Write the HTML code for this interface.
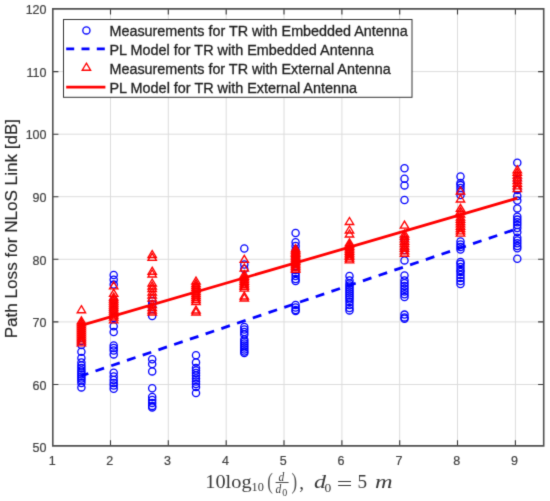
<!DOCTYPE html>
<html><head><meta charset="utf-8"><style>html,body{margin:0;padding:0;background:#fff;overflow:hidden}svg{display:block}</style></head><body>
<svg width="550" height="501" viewBox="0 0 550 501">
<defs><filter id="bl" x="0" y="0" width="1" height="1" color-interpolation-filters="sRGB"><feConvolveMatrix order="3" kernelMatrix="1 6 1 6 36 6 1 6 1" divisor="64" edgeMode="duplicate"/></filter></defs>
<g filter="url(#bl)">
<rect width="550" height="501" fill="#fff"/>
<path d="M110.5 8.9V445.9M168.3 8.9V445.9M226.2 8.9V445.9M284.0 8.9V445.9M341.9 8.9V445.9M399.7 8.9V445.9M457.5 8.9V445.9M515.4 8.9V445.9M52.8 384.5H543.7M52.8 321.9H543.7M52.8 259.3H543.7M52.8 196.7H543.7M52.8 134.2H543.7M52.8 71.6H543.7" stroke="#dcdcdc" stroke-width="1" fill="none"/>
<g fill="none" stroke="#0000ff" stroke-width="1.3"><circle cx="81.4" cy="341.0" r="3.6"/><circle cx="81.4" cy="345.0" r="3.6"/><circle cx="81.4" cy="351.7" r="3.6"/><circle cx="81.4" cy="358.0" r="3.6"/><circle cx="81.4" cy="362.5" r="3.6"/><circle cx="81.4" cy="365.5" r="3.6"/><circle cx="81.4" cy="368.0" r="3.6"/><circle cx="81.4" cy="370.5" r="3.6"/><circle cx="81.4" cy="372.5" r="3.6"/><circle cx="81.4" cy="374.5" r="3.6"/><circle cx="81.4" cy="376.5" r="3.6"/><circle cx="81.4" cy="378.5" r="3.6"/><circle cx="81.4" cy="380.5" r="3.6"/><circle cx="81.4" cy="383.0" r="3.6"/><circle cx="81.4" cy="387.4" r="3.6"/><circle cx="113.7" cy="275.0" r="3.6"/><circle cx="113.7" cy="279.8" r="3.6"/><circle cx="113.7" cy="284.6" r="3.6"/><circle cx="113.7" cy="300.0" r="3.6"/><circle cx="113.7" cy="310.0" r="3.6"/><circle cx="113.7" cy="318.0" r="3.6"/><circle cx="113.7" cy="326.2" r="3.6"/><circle cx="113.7" cy="332.0" r="3.6"/><circle cx="113.7" cy="345.5" r="3.6"/><circle cx="113.7" cy="348.0" r="3.6"/><circle cx="113.7" cy="350.5" r="3.6"/><circle cx="113.7" cy="354.4" r="3.6"/><circle cx="113.7" cy="372.8" r="3.6"/><circle cx="113.7" cy="376.5" r="3.6"/><circle cx="113.7" cy="380.0" r="3.6"/><circle cx="113.7" cy="383.0" r="3.6"/><circle cx="113.7" cy="385.5" r="3.6"/><circle cx="113.7" cy="388.8" r="3.6"/><circle cx="152.2" cy="301.0" r="3.6"/><circle cx="152.2" cy="304.0" r="3.6"/><circle cx="152.2" cy="307.0" r="3.6"/><circle cx="152.2" cy="316.0" r="3.6"/><circle cx="152.2" cy="359.2" r="3.6"/><circle cx="152.2" cy="364.0" r="3.6"/><circle cx="152.2" cy="371.4" r="3.6"/><circle cx="152.2" cy="388.2" r="3.6"/><circle cx="152.2" cy="396.9" r="3.6"/><circle cx="152.2" cy="399.9" r="3.6"/><circle cx="152.2" cy="402.9" r="3.6"/><circle cx="152.2" cy="405.9" r="3.6"/><circle cx="152.2" cy="407.4" r="3.6"/><circle cx="196.0" cy="355.2" r="3.6"/><circle cx="196.0" cy="362.4" r="3.6"/><circle cx="196.0" cy="368.0" r="3.6"/><circle cx="196.0" cy="370.5" r="3.6"/><circle cx="196.0" cy="373.0" r="3.6"/><circle cx="196.0" cy="375.5" r="3.6"/><circle cx="196.0" cy="378.5" r="3.6"/><circle cx="196.0" cy="381.5" r="3.6"/><circle cx="196.0" cy="384.0" r="3.6"/><circle cx="196.0" cy="387.0" r="3.6"/><circle cx="196.0" cy="393.0" r="3.6"/><circle cx="244.3" cy="248.5" r="3.6"/><circle cx="244.3" cy="264.5" r="3.6"/><circle cx="244.3" cy="269.0" r="3.6"/><circle cx="244.3" cy="327.0" r="3.6"/><circle cx="244.3" cy="329.5" r="3.6"/><circle cx="244.3" cy="332.0" r="3.6"/><circle cx="244.3" cy="334.5" r="3.6"/><circle cx="244.3" cy="339.5" r="3.6"/><circle cx="244.3" cy="341.5" r="3.6"/><circle cx="244.3" cy="343.5" r="3.6"/><circle cx="244.3" cy="345.5" r="3.6"/><circle cx="244.3" cy="347.5" r="3.6"/><circle cx="244.3" cy="349.5" r="3.6"/><circle cx="244.3" cy="351.5" r="3.6"/><circle cx="244.3" cy="353.0" r="3.6"/><circle cx="295.6" cy="233.0" r="3.6"/><circle cx="295.6" cy="242.2" r="3.6"/><circle cx="295.6" cy="246.0" r="3.6"/><circle cx="295.6" cy="250.0" r="3.6"/><circle cx="295.6" cy="254.0" r="3.6"/><circle cx="295.6" cy="258.0" r="3.6"/><circle cx="295.6" cy="262.0" r="3.6"/><circle cx="295.6" cy="266.0" r="3.6"/><circle cx="295.6" cy="270.0" r="3.6"/><circle cx="295.6" cy="273.0" r="3.6"/><circle cx="295.6" cy="276.0" r="3.6"/><circle cx="295.6" cy="279.0" r="3.6"/><circle cx="295.6" cy="281.0" r="3.6"/><circle cx="295.6" cy="305.0" r="3.6"/><circle cx="295.6" cy="307.5" r="3.6"/><circle cx="295.6" cy="310.0" r="3.6"/><circle cx="295.6" cy="311.0" r="3.6"/><circle cx="349.5" cy="276.0" r="3.6"/><circle cx="349.5" cy="280.5" r="3.6"/><circle cx="349.5" cy="283.5" r="3.6"/><circle cx="349.5" cy="285.5" r="3.6"/><circle cx="349.5" cy="287.5" r="3.6"/><circle cx="349.5" cy="289.5" r="3.6"/><circle cx="349.5" cy="291.5" r="3.6"/><circle cx="349.5" cy="293.5" r="3.6"/><circle cx="349.5" cy="295.5" r="3.6"/><circle cx="349.5" cy="297.5" r="3.6"/><circle cx="349.5" cy="299.5" r="3.6"/><circle cx="349.5" cy="302.0" r="3.6"/><circle cx="349.5" cy="305.0" r="3.6"/><circle cx="349.5" cy="308.0" r="3.6"/><circle cx="349.5" cy="310.4" r="3.6"/><circle cx="404.5" cy="168.3" r="3.6"/><circle cx="404.5" cy="178.7" r="3.6"/><circle cx="404.5" cy="185.4" r="3.6"/><circle cx="404.5" cy="200.0" r="3.6"/><circle cx="404.5" cy="240.0" r="3.6"/><circle cx="404.5" cy="250.0" r="3.6"/><circle cx="404.5" cy="260.4" r="3.6"/><circle cx="404.5" cy="275.5" r="3.6"/><circle cx="404.5" cy="280.4" r="3.6"/><circle cx="404.5" cy="283.2" r="3.6"/><circle cx="404.5" cy="286.0" r="3.6"/><circle cx="404.5" cy="288.7" r="3.6"/><circle cx="404.5" cy="291.5" r="3.6"/><circle cx="404.5" cy="294.3" r="3.6"/><circle cx="404.5" cy="297.1" r="3.6"/><circle cx="404.5" cy="314.6" r="3.6"/><circle cx="404.5" cy="317.4" r="3.6"/><circle cx="404.5" cy="318.8" r="3.6"/><circle cx="460.5" cy="176.5" r="3.6"/><circle cx="460.5" cy="183.0" r="3.6"/><circle cx="460.5" cy="185.1" r="3.6"/><circle cx="460.5" cy="188.0" r="3.6"/><circle cx="460.5" cy="191.4" r="3.6"/><circle cx="460.5" cy="195.0" r="3.6"/><circle cx="460.5" cy="241.5" r="3.6"/><circle cx="460.5" cy="244.5" r="3.6"/><circle cx="460.5" cy="247.0" r="3.6"/><circle cx="460.5" cy="249.5" r="3.6"/><circle cx="460.5" cy="262.0" r="3.6"/><circle cx="460.5" cy="264.0" r="3.6"/><circle cx="460.5" cy="267.0" r="3.6"/><circle cx="460.5" cy="270.0" r="3.6"/><circle cx="460.5" cy="272.0" r="3.6"/><circle cx="460.5" cy="275.0" r="3.6"/><circle cx="460.5" cy="278.0" r="3.6"/><circle cx="460.5" cy="281.0" r="3.6"/><circle cx="460.5" cy="284.0" r="3.6"/><circle cx="517.3" cy="162.8" r="3.6"/><circle cx="517.3" cy="180.0" r="3.6"/><circle cx="517.3" cy="190.0" r="3.6"/><circle cx="517.3" cy="196.0" r="3.6"/><circle cx="517.3" cy="200.6" r="3.6"/><circle cx="517.3" cy="208.4" r="3.6"/><circle cx="517.3" cy="216.8" r="3.6"/><circle cx="517.3" cy="219.6" r="3.6"/><circle cx="517.3" cy="222.3" r="3.6"/><circle cx="517.3" cy="225.1" r="3.6"/><circle cx="517.3" cy="228.0" r="3.6"/><circle cx="517.3" cy="232.0" r="3.6"/><circle cx="517.3" cy="237.7" r="3.6"/><circle cx="517.3" cy="240.5" r="3.6"/><circle cx="517.3" cy="243.3" r="3.6"/><circle cx="517.3" cy="246.0" r="3.6"/><circle cx="517.3" cy="248.2" r="3.6"/><circle cx="517.3" cy="258.7" r="3.6"/></g>
<path d="M81.4 375.8L517.3 228.7" stroke="#0000ff" stroke-width="2.8" stroke-dasharray="9 7.6" stroke-dashoffset="1.7" fill="none"/>
<g fill="none" stroke="#ff0000" stroke-width="1.35" stroke-linejoin="miter"><path d="M81.4 305.7L85.6 312.7L77.2 312.7Z"/><path d="M81.4 316.9L85.6 323.9L77.2 323.9Z"/><path d="M81.4 318.9L85.6 325.9L77.2 325.9Z"/><path d="M81.4 320.9L85.6 327.9L77.2 327.9Z"/><path d="M81.4 322.9L85.6 329.9L77.2 329.9Z"/><path d="M81.4 324.9L85.6 331.9L77.2 331.9Z"/><path d="M81.4 326.9L85.6 333.9L77.2 333.9Z"/><path d="M81.4 328.9L85.6 335.9L77.2 335.9Z"/><path d="M81.4 330.9L85.6 337.9L77.2 337.9Z"/><path d="M81.4 332.9L85.6 339.9L77.2 339.9Z"/><path d="M81.4 334.9L85.6 341.9L77.2 341.9Z"/><path d="M81.4 336.9L85.6 343.9L77.2 343.9Z"/><path d="M81.4 338.9L85.6 345.9L77.2 345.9Z"/><path d="M113.7 281.8L117.9 288.8L109.5 288.8Z"/><path d="M113.7 289.3L117.9 296.3L109.5 296.3Z"/><path d="M113.7 293.0L117.9 300.0L109.5 300.0Z"/><path d="M113.7 295.0L117.9 302.0L109.5 302.0Z"/><path d="M113.7 297.0L117.9 304.0L109.5 304.0Z"/><path d="M113.7 299.0L117.9 306.0L109.5 306.0Z"/><path d="M113.7 301.0L117.9 308.0L109.5 308.0Z"/><path d="M113.7 303.0L117.9 310.0L109.5 310.0Z"/><path d="M113.7 305.0L117.9 312.0L109.5 312.0Z"/><path d="M113.7 307.0L117.9 314.0L109.5 314.0Z"/><path d="M113.7 309.0L117.9 316.0L109.5 316.0Z"/><path d="M113.7 311.0L117.9 318.0L109.5 318.0Z"/><path d="M113.7 313.0L117.9 320.0L109.5 320.0Z"/><path d="M113.7 315.8L117.9 322.8L109.5 322.8Z"/><path d="M152.2 250.5L156.4 257.5L148.0 257.5Z"/><path d="M152.2 253.3L156.4 260.3L148.0 260.3Z"/><path d="M152.2 267.2L156.4 274.2L148.0 274.2Z"/><path d="M152.2 270.0L156.4 277.0L148.0 277.0Z"/><path d="M152.2 279.0L156.4 286.0L148.0 286.0Z"/><path d="M152.2 282.0L156.4 289.0L148.0 289.0Z"/><path d="M152.2 284.5L156.4 291.5L148.0 291.5Z"/><path d="M152.2 288.0L156.4 295.0L148.0 295.0Z"/><path d="M152.2 291.0L156.4 298.0L148.0 298.0Z"/><path d="M152.2 294.0L156.4 301.0L148.0 301.0Z"/><path d="M152.2 300.5L156.4 307.5L148.0 307.5Z"/><path d="M152.2 303.5L156.4 310.5L148.0 310.5Z"/><path d="M152.2 306.0L156.4 313.0L148.0 313.0Z"/><path d="M152.2 308.0L156.4 315.0L148.0 315.0Z"/><path d="M196.0 277.0L200.2 284.0L191.8 284.0Z"/><path d="M196.0 279.5L200.2 286.5L191.8 286.5Z"/><path d="M196.0 281.5L200.2 288.5L191.8 288.5Z"/><path d="M196.0 283.5L200.2 290.5L191.8 290.5Z"/><path d="M196.0 285.5L200.2 292.5L191.8 292.5Z"/><path d="M196.0 287.5L200.2 294.5L191.8 294.5Z"/><path d="M196.0 289.5L200.2 296.5L191.8 296.5Z"/><path d="M196.0 291.5L200.2 298.5L191.8 298.5Z"/><path d="M196.0 293.5L200.2 300.5L191.8 300.5Z"/><path d="M196.0 295.5L200.2 302.5L191.8 302.5Z"/><path d="M196.0 297.5L200.2 304.5L191.8 304.5Z"/><path d="M196.0 306.0L200.2 313.0L191.8 313.0Z"/><path d="M196.0 308.0L200.2 315.0L191.8 315.0Z"/><path d="M244.3 255.3L248.5 262.3L240.1 262.3Z"/><path d="M244.3 264.0L248.5 271.0L240.1 271.0Z"/><path d="M244.3 270.5L248.5 277.5L240.1 277.5Z"/><path d="M244.3 272.2L248.5 279.2L240.1 279.2Z"/><path d="M244.3 273.9L248.5 280.9L240.1 280.9Z"/><path d="M244.3 275.6L248.5 282.6L240.1 282.6Z"/><path d="M244.3 277.3L248.5 284.3L240.1 284.3Z"/><path d="M244.3 279.0L248.5 286.0L240.1 286.0Z"/><path d="M244.3 280.7L248.5 287.7L240.1 287.7Z"/><path d="M244.3 282.4L248.5 289.4L240.1 289.4Z"/><path d="M244.3 284.1L248.5 291.1L240.1 291.1Z"/><path d="M244.3 292.0L248.5 299.0L240.1 299.0Z"/><path d="M244.3 294.0L248.5 301.0L240.1 301.0Z"/><path d="M295.6 244.5L299.8 251.5L291.4 251.5Z"/><path d="M295.6 246.1L299.8 253.1L291.4 253.1Z"/><path d="M295.6 247.7L299.8 254.7L291.4 254.7Z"/><path d="M295.6 249.3L299.8 256.3L291.4 256.3Z"/><path d="M295.6 250.9L299.8 257.9L291.4 257.9Z"/><path d="M295.6 252.5L299.8 259.5L291.4 259.5Z"/><path d="M295.6 254.1L299.8 261.1L291.4 261.1Z"/><path d="M295.6 255.7L299.8 262.7L291.4 262.7Z"/><path d="M295.6 257.3L299.8 264.3L291.4 264.3Z"/><path d="M295.6 258.9L299.8 265.9L291.4 265.9Z"/><path d="M295.6 260.5L299.8 267.5L291.4 267.5Z"/><path d="M295.6 262.1L299.8 269.1L291.4 269.1Z"/><path d="M295.6 263.7L299.8 270.7L291.4 270.7Z"/><path d="M295.6 265.3L299.8 272.3L291.4 272.3Z"/><path d="M349.5 217.5L353.7 224.5L345.3 224.5Z"/><path d="M349.5 226.0L353.7 233.0L345.3 233.0Z"/><path d="M349.5 230.0L353.7 237.0L345.3 237.0Z"/><path d="M349.5 238.8L353.7 245.8L345.3 245.8Z"/><path d="M349.5 240.5L353.7 247.5L345.3 247.5Z"/><path d="M349.5 242.2L353.7 249.2L345.3 249.2Z"/><path d="M349.5 243.9L353.7 250.9L345.3 250.9Z"/><path d="M349.5 245.6L353.7 252.6L345.3 252.6Z"/><path d="M349.5 247.3L353.7 254.3L345.3 254.3Z"/><path d="M349.5 249.0L353.7 256.0L345.3 256.0Z"/><path d="M349.5 250.7L353.7 257.7L345.3 257.7Z"/><path d="M349.5 252.4L353.7 259.4L345.3 259.4Z"/><path d="M349.5 254.1L353.7 261.1L345.3 261.1Z"/><path d="M349.5 255.8L353.7 262.8L345.3 262.8Z"/><path d="M404.5 221.1L408.7 228.1L400.3 228.1Z"/><path d="M404.5 230.0L408.7 237.0L400.3 237.0Z"/><path d="M404.5 232.4L408.7 239.4L400.3 239.4Z"/><path d="M404.5 234.8L408.7 241.8L400.3 241.8Z"/><path d="M404.5 237.2L408.7 244.2L400.3 244.2Z"/><path d="M404.5 239.6L408.7 246.6L400.3 246.6Z"/><path d="M404.5 242.0L408.7 249.0L400.3 249.0Z"/><path d="M404.5 244.4L408.7 251.4L400.3 251.4Z"/><path d="M404.5 246.8L408.7 253.8L400.3 253.8Z"/><path d="M404.5 249.3L408.7 256.3L400.3 256.3Z"/><path d="M460.5 187.0L464.7 194.0L456.3 194.0Z"/><path d="M460.5 195.0L464.7 202.0L456.3 202.0Z"/><path d="M460.5 204.3L464.7 211.3L456.3 211.3Z"/><path d="M460.5 207.3L464.7 214.3L456.3 214.3Z"/><path d="M460.5 210.0L464.7 217.0L456.3 217.0Z"/><path d="M460.5 213.0L464.7 220.0L456.3 220.0Z"/><path d="M460.5 215.3L464.7 222.3L456.3 222.3Z"/><path d="M460.5 217.6L464.7 224.6L456.3 224.6Z"/><path d="M460.5 219.9L464.7 226.9L456.3 226.9Z"/><path d="M460.5 222.2L464.7 229.2L456.3 229.2Z"/><path d="M460.5 224.5L464.7 231.5L456.3 231.5Z"/><path d="M460.5 226.8L464.7 233.8L456.3 233.8Z"/><path d="M460.5 229.1L464.7 236.1L456.3 236.1Z"/><path d="M517.3 165.7L521.5 172.7L513.1 172.7Z"/><path d="M517.3 168.4L521.5 175.4L513.1 175.4Z"/><path d="M517.3 171.1L521.5 178.1L513.1 178.1Z"/><path d="M517.3 173.8L521.5 180.8L513.1 180.8Z"/><path d="M517.3 176.5L521.5 183.5L513.1 183.5Z"/><path d="M517.3 179.2L521.5 186.2L513.1 186.2Z"/><path d="M517.3 181.9L521.5 188.9L513.1 188.9Z"/><path d="M517.3 184.6L521.5 191.6L513.1 191.6Z"/></g>
<path d="M81.4 325.4L517.3 198.2" stroke="#ff0000" stroke-width="2.8" fill="none"/>
<path d="M110.5 445.9v-5.6M110.5 8.9v5.6M168.3 445.9v-5.6M168.3 8.9v5.6M226.2 445.9v-5.6M226.2 8.9v5.6M284.0 445.9v-5.6M284.0 8.9v5.6M341.9 445.9v-5.6M341.9 8.9v5.6M399.7 445.9v-5.6M399.7 8.9v5.6M457.5 445.9v-5.6M457.5 8.9v5.6M515.4 445.9v-5.6M515.4 8.9v5.6M52.8 384.5h5.6M543.7 384.5h-5.6M52.8 321.9h5.6M543.7 321.9h-5.6M52.8 259.3h5.6M543.7 259.3h-5.6M52.8 196.7h5.6M543.7 196.7h-5.6M52.8 134.2h5.6M543.7 134.2h-5.6M52.8 71.6h5.6M543.7 71.6h-5.6" stroke="#383838" stroke-width="1.1" fill="none"/>
<path d="M52.8 8.9H543.7V445.9H52.8Z" stroke="#505050" stroke-width="1.6" fill="none"/>
<g font-family="Liberation Sans, Arial, sans-serif" font-size="12.5" fill="#404040" stroke="#404040" stroke-width="0.2"><text x="46.5" y="451.7" text-anchor="end">50</text><text x="46.5" y="389.7" text-anchor="end">60</text><text x="46.5" y="327.1" text-anchor="end">70</text><text x="46.5" y="264.5" text-anchor="end">80</text><text x="46.5" y="201.9" text-anchor="end">90</text><text x="46.5" y="139.4" text-anchor="end">100</text><text x="46.5" y="76.8" text-anchor="end">110</text><text x="46.5" y="14.2" text-anchor="end">120</text><text x="52.3" y="465" text-anchor="middle">1</text><text x="109.7" y="465" text-anchor="middle">2</text><text x="167.5" y="465" text-anchor="middle">3</text><text x="225.4" y="465" text-anchor="middle">4</text><text x="283.2" y="465" text-anchor="middle">5</text><text x="341.1" y="465" text-anchor="middle">6</text><text x="398.9" y="465" text-anchor="middle">7</text><text x="456.7" y="465" text-anchor="middle">8</text><text x="514.6" y="465" text-anchor="middle">9</text></g>
<text transform="translate(17.2,228.6) rotate(-90)" text-anchor="middle" font-family="Liberation Sans, Arial, sans-serif" font-size="15.6" fill="#262626" stroke="#262626" stroke-width="0.15" textLength="219.4" lengthAdjust="spacingAndGlyphs">Path Loss for NLoS Link [dB]</text>
<rect x="63.5" y="19.5" width="348.5" height="77.8" fill="#fff" stroke="#333" stroke-width="1"/>
<circle cx="86.4" cy="30.4" r="3.6" fill="none" stroke="#0000ff" stroke-width="1.3"/>
<path d="M66.2 48.9H105.2" stroke="#0000ff" stroke-width="2.8" stroke-dasharray="8 7.3" fill="none"/>
<path fill="none" stroke="#ff0000" stroke-width="1.35" d="M86.4 63.2L90.6 70.2L82.2 70.2Z"/>
<path d="M66.2 87.1H105.4" stroke="#ff0000" stroke-width="2.8" fill="none"/>
<g font-family="Liberation Sans, Arial, sans-serif" font-size="13.8" fill="#1e1e1e" stroke="#1e1e1e" stroke-width="0.3"><text x="109.5" y="35.5" textLength="298.2" lengthAdjust="spacingAndGlyphs">Measurements for TR with Embedded Antenna</text><text x="109.5" y="54.6" textLength="264.2" lengthAdjust="spacingAndGlyphs">PL Model for TR with Embedded Antenna</text><text x="109.5" y="73.8" textLength="281.3" lengthAdjust="spacingAndGlyphs">Measurements for TR with External Antenna</text><text x="109.5" y="92.7" textLength="247.5" lengthAdjust="spacingAndGlyphs">PL Model for TR with External Antenna</text></g>
<g fill="#3a3a3a"><text x="205.3" y="488" font-family="Liberation Serif, Times New Roman, serif" font-size="19.5" textLength="46.3" lengthAdjust="spacingAndGlyphs">10log</text><text x="251.5" y="491" font-family="Liberation Serif, Times New Roman, serif" font-size="13.5" textLength="12.3" lengthAdjust="spacingAndGlyphs">10</text><text x="267.3" y="489" font-family="Liberation Serif, Times New Roman, serif" font-size="23" textLength="5.6" lengthAdjust="spacingAndGlyphs" fill="#555" stroke="none">(</text><text x="278.6" y="481.1" font-family="Liberation Serif, Times New Roman, serif" font-size="11.5" font-style="italic">d</text><path d="M275.6 482.5H288.6" stroke="#333" stroke-width="0.9"/><text x="275.6" y="492.5" font-family="Liberation Serif, Times New Roman, serif" font-size="11.5" font-style="italic">d</text><text x="282.3" y="496.3" font-family="Liberation Serif, Times New Roman, serif" font-size="10">0</text><text x="291.4" y="489" font-family="Liberation Serif, Times New Roman, serif" font-size="23" textLength="5.6" lengthAdjust="spacingAndGlyphs" fill="#555" stroke="none">)</text><text x="299.2" y="488.5" font-family="Liberation Serif, Times New Roman, serif" font-size="19">,</text><text x="313.9" y="488" font-family="Liberation Serif, Times New Roman, serif" font-size="19" font-style="italic" textLength="12" lengthAdjust="spacingAndGlyphs">d</text><text x="324.4" y="491.5" font-family="Liberation Serif, Times New Roman, serif" font-size="13.5">0</text><text x="336.8" y="489.6" font-family="Liberation Serif, Times New Roman, serif" font-size="19" textLength="15.6" lengthAdjust="spacingAndGlyphs">=</text><text x="357.6" y="487.8" font-family="Liberation Serif, Times New Roman, serif" font-size="19" textLength="9.6" lengthAdjust="spacingAndGlyphs">5</text><text x="375" y="488" font-family="Liberation Serif, Times New Roman, serif" font-size="19" font-style="italic" textLength="17.6" lengthAdjust="spacingAndGlyphs">m</text></g>
</g></svg>
</body></html>
